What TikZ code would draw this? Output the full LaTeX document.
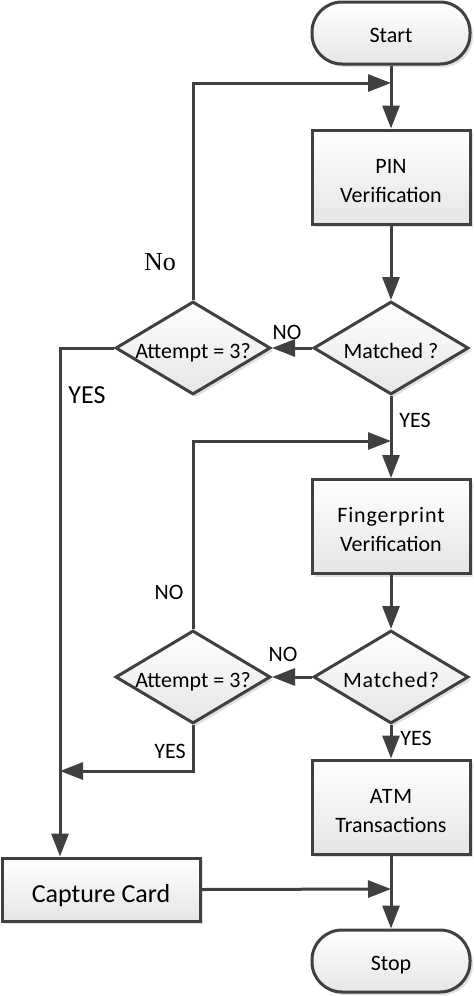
\documentclass[tikz,border=0pt]{standalone}
\usepackage{fontspec}
\setmainfont{Carlito}
\newfontfamily\timesfont{Liberation Serif}
\usetikzlibrary{shapes.geometric,arrows.meta,shadows}
\definecolor{linegray}{HTML}{404040}
\newcommand{\spaced}[1]{{\addfontfeature{LetterSpace=4}#1}}
\begin{document}
\begin{tikzpicture}[x=0.5pt, y=-0.5pt,
    every node/.style={font=\fontsize{11}{14.5}\selectfont},
    shade/.style={draw=linegray, line width=1.5pt, top color=white, bottom color=gray!20,
      drop shadow={shadow xshift=1.5pt, shadow yshift=-1.5pt, opacity=0.25}},
    box/.style={shade, rectangle, minimum width=79pt, minimum height=47pt, align=center, inner sep=0pt,
      text height=25pt, text depth=0pt},
    term/.style={shade, rectangle, rounded corners=15pt, minimum width=79pt, minimum height=31pt, inner sep=0pt,
      text height=9pt, text depth=0pt},
    decide/.style={shade, diamond, aspect=1.67, minimum width=77.5pt, minimum height=46.5pt, inner sep=0pt,
      text height=10pt, text depth=0pt},
    lab/.style={inner sep=0pt},
    arr/.style={draw=linegray, line width=1.5pt, -{Triangle[length=11.5pt,width=8.5pt]}}]
  \useasboundingbox (0,0) rectangle (474,996);
  % boxes
  \node[term] (start) at (391,33) {Start};
  \node[box] (pin) at (391,177) {PIN\\Verification};
  \node[decide] (match1) at (391,348) {Matched ?};
  \node[decide] (att1) at (193,348) {Attempt = 3?};
  \node[box] (finger) at (391,526.5) {\spaced{Fingerprint}\\Verification};
  \node[decide] (match2) at (391,677) {\spaced{Matched?}};
  \node[decide] (att2) at (193,677) {Attempt = 3?};
  \node[box] (atm) at (391,807) {\spaced{ATM}\\Transactions};
  \node[shade, minimum width=99pt, minimum height=31.5pt, inner sep=0pt, text height=12.9pt, text depth=0pt,
    font=\fontsize{13}{15}\selectfont] (capture) at (101,889.5) {Capture Card};
  \node[term] (stop) at (391,961) {Stop};
  % junctions
  \coordinate (j1) at (391,83);
  \coordinate (j2) at (391,441);
  \coordinate (j3) at (391,889);
  \coordinate (yes1) at (60,348);
  \coordinate (j4) at (60,771);
  % connectors
  \draw[arr] (start) -- (pin);
  \draw[arr] (att1.north) |- (j1);
  \draw[arr] (pin) -- (match1);
  \draw[arr] (match1.west) -- (att1.east);
  \draw[arr] (att1.west) -- (yes1) -- (yes1 |- capture.north);
  \draw[arr] (match1) -- (finger);
  \draw[arr] (att2.north) |- (j2);
  \draw[arr] (finger) -- (match2);
  \draw[arr] (match2.west) -- (att2.east);
  \draw[arr] (match2) -- (atm);
  \draw[arr] (att2.south) |- (j4);
  \draw[arr] (atm) -- (stop);
  \draw[arr] (capture.east) -- (j3);
  % labels
  \node[lab, font={\timesfont\fontsize{13}{15}\selectfont}] (no0) at (160,262) {No};
  \node[lab] (no1) at (287,332) {NO};
  \node[lab, font=\fontsize{13}{15}\selectfont] (yes0) at (87,395) {YES};
  \node[lab] (yes2) at (415,420) {YES};
  \node[lab] (no3) at (169,592) {NO};
  \node[lab] (no2) at (283,654) {NO};
  \node[lab] (yes3) at (416,738) {YES};
  \node[lab] (yes4) at (170,751) {YES};
\end{tikzpicture}
\end{document}
